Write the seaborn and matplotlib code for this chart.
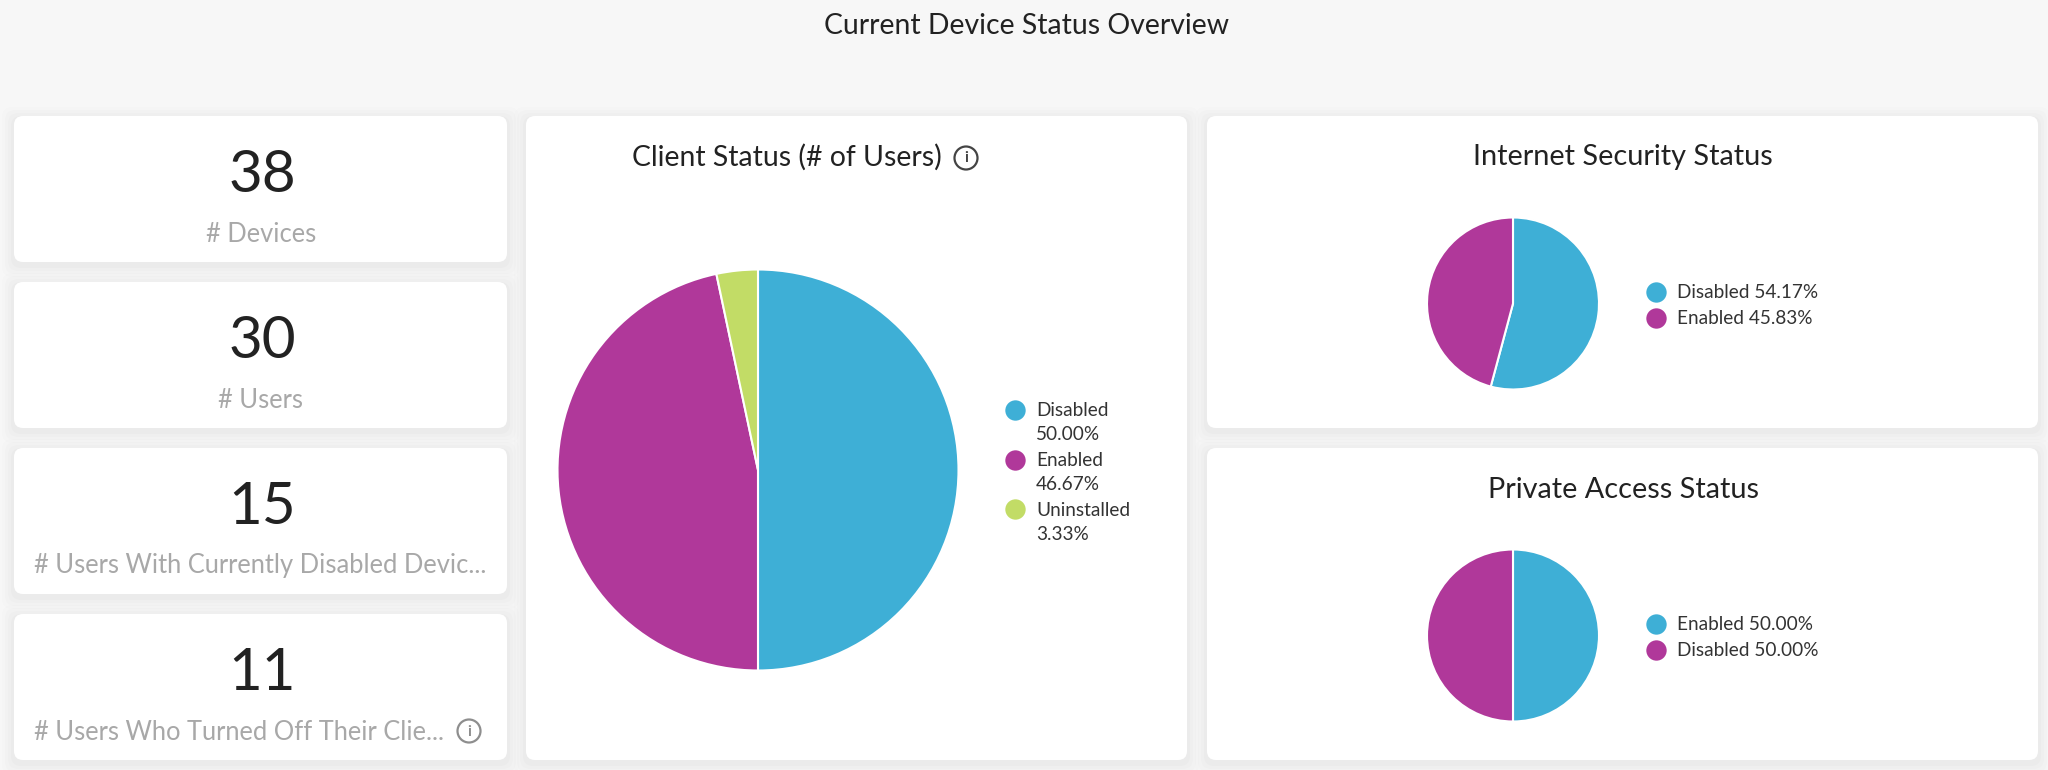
import matplotlib
matplotlib.use('Agg')
import matplotlib.pyplot as plt
from matplotlib.patches import FancyBboxPatch, Circle
import seaborn as sns

# kpi cards
kpi_values = ['38', '30', '15', '11']
kpi_labels = ['# Devices', '# Users', '# Users With Currently Disabled Devic...', '# Users Who Turned Off Their Clie...']

# pie data
client_labels = ['Disabled', 'Enabled', 'Uninstalled']
client_values = [50.00, 46.67, 3.33]
security_labels = ['Disabled', 'Enabled']
security_values = [54.17, 45.83]
access_labels = ['Enabled', 'Disabled']
access_values = [50.00, 50.00]

page_title = 'Current Device Status Overview'
client_title = 'Client Status (# of Users)'
security_title = 'Internet Security Status'
access_title = 'Private Access Status'

colors = sns.color_palette(['#3eafd6', '#b0389a', '#c2dc66'])

sns.set_theme(style='white')
plt.rcParams['font.family'] = ['Lato', 'DejaVu Sans']

W, H = 2048, 770
fig = plt.figure(figsize=(W / 100, H / 100), dpi=100, facecolor='#f7f7f7')

# whole figure axes in pixel coordinates for the cards and text
bg = fig.add_axes([0, 0, 1, 1])
bg.set_xlim(0, W)
bg.set_ylim(H, 0)
bg.axis('off')


def draw_card(x0, y0, x1, y1):
    # soft shadow first
    for grow, alpha in [(12, 0.008), (9, 0.010), (6, 0.012), (3, 0.016)]:
        bg.add_patch(FancyBboxPatch((x0 - grow, y0 - grow + 3), x1 - x0 + 2 * grow, y1 - y0 + 2 * grow,
                                    boxstyle='round,pad=0,rounding_size=10', fc='black', ec='none', alpha=alpha))
    bg.add_patch(FancyBboxPatch((x0, y0), x1 - x0, y1 - y0, boxstyle='round,pad=0,rounding_size=9',
                                fc='white', ec='none'))


def draw_info(x, y, color):
    bg.add_patch(Circle((x, y), 11.5, fc='none', ec=color, lw=1.6))
    bg.text(x, y + 0.5, 'i', ha='center', va='center', fontsize=11, fontweight='bold', color=color)


def draw_pie(values, cx, cy, r, palette):
    ax = fig.add_axes([(cx - r) / W, 1 - (cy + r) / H, 2 * r / W, 2 * r / H])
    ax.pie(values, colors=palette, startangle=90, counterclock=False, radius=1,
           wedgeprops={'edgecolor': 'white', 'linewidth': 1.5})
    ax.set_xlim(-1.0, 1.0)
    ax.set_ylim(-1.0, 1.0)


bg.text(1026, 26, page_title, ha='center', va='center', fontsize=20.4, color='#222222')

# left column
card_tops = [116, 282, 448, 614]
for top, val, lab in zip(card_tops, kpi_values, kpi_labels):
    draw_card(14, top, 507, top + 146)
    bg.text(262, top + 60, val, ha='center', va='center', fontsize=42, color='#222222')
    if len(lab) > 20:
        bg.text(34, top + 118, lab, ha='left', va='center', fontsize=18.4, color='#a8a8a8')
    else:
        bg.text(261, top + 118, lab, ha='center', va='center', fontsize=18.4, color='#a8a8a8')
draw_info(469, 731, '#8e8e8e')

# client status card
draw_card(526, 116, 1187, 760)
bg.text(632, 157, client_title, ha='left', va='center', fontsize=20.4, color='#222222')
draw_info(966, 158, '#444444')
draw_pie(client_values, 758, 470, 200.5, colors[:3])
for i, (lab, val) in enumerate(zip(client_labels, client_values)):
    y = 410 + i * 49.5
    bg.scatter([1015], [y], s=215, color=colors[i], linewidths=0)
    bg.text(1036, y + 1, lab, ha='left', va='center', fontsize=13.7, color='#333333')
    bg.text(1036, y + 25, '{:.2f}%'.format(val), ha='left', va='center', fontsize=13.7, color='#333333')

# right cards
right_cards = [(116, security_title, security_labels, security_values),
               (448, access_title, access_labels, access_values)]
for top, title, labs, vals in right_cards:
    draw_card(1207, top, 2038, top + 312)
    bg.text(1623, top + 41.5, title, ha='center', va='center', fontsize=20.8, color='#222222')
    draw_pie(vals, 1513, top + 187.5, 86, colors[:2])
    for i, (lab, val) in enumerate(zip(labs, vals)):
        y = top + 176 + i * 25.5
        bg.scatter([1656], [y], s=215, color=colors[i], linewidths=0)
        bg.text(1677, y + 1, '{} {:.2f}%'.format(lab, val), ha='left', va='center', fontsize=13.7, color='#333333')

fig.savefig('out.png', dpi=100, facecolor=fig.get_facecolor())
